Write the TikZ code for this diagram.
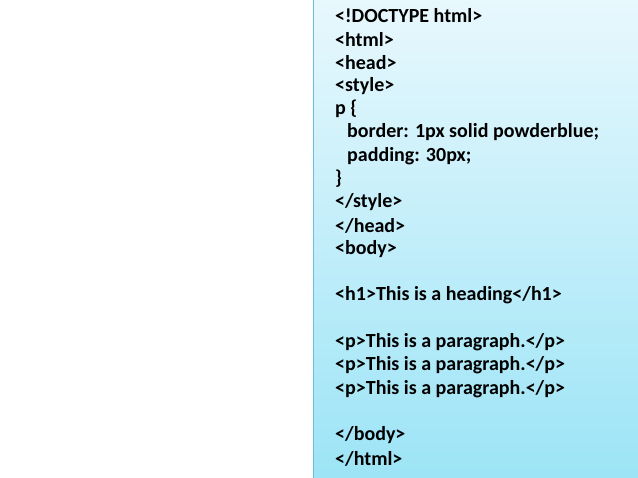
\documentclass[tikz,border=0pt]{standalone}
\usepackage{fontspec}
\setmainfont{Carlito}
\begin{document}
\begin{tikzpicture}[x=1pt,y=-1pt,
  codeline/.style={anchor=west,inner sep=0pt,font=\fontsize{20}{24}\selectfont\bfseries}]
\useasboundingbox (0,0) rectangle (638,478);
\fill[white] (0,0) rectangle (638,478);
\shade[top color={rgb,255:red,232;green,248;blue,253},bottom color={rgb,255:red,156;green,228;blue,246}] (313,-2) rectangle (640,480);
\draw[color={rgb,255:red,110;green,190;blue,225},line width=1.2] (313.5,-2) -- (313.5,480);
\foreach \t [count=\i from 0] in {{<!DOCTYPE html>},{<html>},{<head>},{<style>},{p \{},{\hspace{12pt}border: 1px solid powderblue;},{\hspace{12pt}padding: 30px;},{\}},{</style>},{</head>},{<body>},{},{<h1>This is a heading</h1>},{},{<p>This is a paragraph.</p>},{<p>This is a paragraph.</p>},{<p>This is a paragraph.</p>},{},{</body>},{</html>}}
  \node[codeline] (l\i) at (335,{16+23.3*\i}) {\t};
\end{tikzpicture}
\end{document}
